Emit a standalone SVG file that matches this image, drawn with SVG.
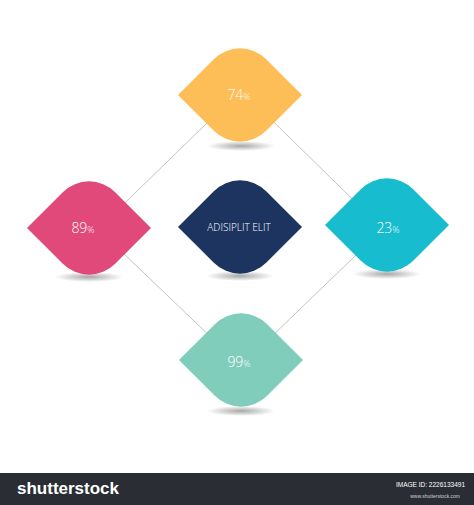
<svg xmlns="http://www.w3.org/2000/svg" xmlns:xlink="http://www.w3.org/1999/xlink" width="474" height="505" viewBox="0 0 474 505">
  <style>
    .lbl { font-family: "Open Sans", "Liberation Sans", sans-serif; font-weight: 300; fill: #ffffff; text-anchor: middle; }
    .num { font-size: 14px; }
    .pct { font-size: 9px; }
    .conn { stroke: #c4c4c4; stroke-width: 1; fill: none; }
    .foot { font-family: "Liberation Sans", "DejaVu Sans", sans-serif; fill: #ffffff; }
  </style>
  <defs>
    <path id="leaf" d="M -62 0 L -26.16 -35.84 A 37 37 0 0 1 26.16 -35.84 L 62 0 L 26.16 35.84 A 37 37 0 0 1 -26.16 35.84 Z"/>
    <radialGradient id="sh" cx="0.5" cy="0.5" r="0.5">
      <stop offset="0" stop-color="#8a8a8a" stop-opacity="0.75"/>
      <stop offset="1" stop-color="#8a8a8a" stop-opacity="0"/>
    </radialGradient>
    <ellipse id="shadow" cx="0" cy="0" rx="34" ry="5" fill="url(#sh)"/>
  </defs>
  <rect x="0" y="0" width="474" height="505" fill="#ffffff"/>

  <g id="connectors">
    <line class="conn" x1="241" y1="90" x2="98" y2="229"/>
    <line class="conn" x1="241" y1="90" x2="383" y2="229"/>
    <line class="conn" x1="98" y1="229" x2="241" y2="366"/>
    <line class="conn" x1="383" y1="229" x2="241" y2="366"/>
  </g>

  <g id="node-top">
    <use xlink:href="#shadow" x="241" y="146"/>
    <use xlink:href="#leaf" x="240" y="95" fill="#FDBE58"/>
    <text class="lbl" x="239" y="100"><tspan class="num">74</tspan><tspan class="pct">%</tspan></text>
  </g>

  <g id="node-left">
    <use xlink:href="#shadow" x="89" y="277"/>
    <use xlink:href="#leaf" x="89" y="228" fill="#E0497A"/>
    <text class="lbl" x="83" y="233"><tspan class="num">89</tspan><tspan class="pct">%</tspan></text>
  </g>

  <g id="node-center">
    <use xlink:href="#shadow" x="240" y="276"/>
    <use xlink:href="#leaf" x="240" y="227" fill="#1D3461"/>
    <text class="lbl" x="239" y="231" style="font-size:10px">ADISIPLIT ELIT</text>
  </g>

  <g id="node-right">
    <use xlink:href="#shadow" x="387" y="274"/>
    <use xlink:href="#leaf" x="387" y="225" fill="#17BCCE"/>
    <text class="lbl" x="388" y="233"><tspan class="num">23</tspan><tspan class="pct">%</tspan></text>
  </g>

  <g id="node-bottom">
    <use xlink:href="#shadow" x="241" y="411"/>
    <use xlink:href="#leaf" x="241" y="360" fill="#80CDBB"/>
    <text class="lbl" x="239" y="367"><tspan class="num">99</tspan><tspan class="pct">%</tspan></text>
  </g>

  <g id="footer">
    <rect x="0" y="473" width="474" height="32" fill="#2A2D34"/>
    <text class="foot" x="17" y="494" style="font-size:17px;font-weight:bold">shutterstock</text>
    <text class="foot" x="465" y="487" style="font-size:6.5px;text-anchor:end">IMAGE ID: 2226133491</text>
    <text class="foot" x="460" y="498" style="font-size:5px;text-anchor:end;fill:#cfd0d3">www.shutterstock.com</text>
  </g>
</svg>
